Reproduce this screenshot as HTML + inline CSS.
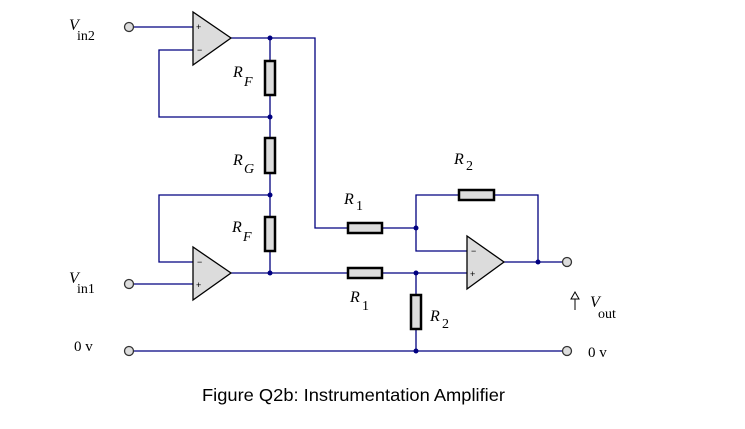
<!DOCTYPE html>
<html><head><style>html,body{margin:0;padding:0;background:#fff}svg{display:block}</style></head>
<body>
<svg width="745" height="429" viewBox="0 0 745 429" xmlns="http://www.w3.org/2000/svg">
<g fill="none" stroke="#000080" stroke-width="1.3">
<polyline points="134,27 193,27"/>
<polyline points="193,50 159,50 159,117 270,117"/>
<polyline points="231,38 315,38 315,228 348,228"/>
<polyline points="270,38 270,61"/><polyline points="270,95 270,138"/><polyline points="270,173 270,217"/><polyline points="270,251 270,273"/>
<polyline points="193,262 159,262 159,195 270,195"/>
<polyline points="134,284 193,284"/>
<polyline points="231,273 348,273"/>
<polyline points="382,273 467,273"/>
<polyline points="382,228 416,228 416,251 467,251"/>
<polyline points="416,228 416,195 459,195"/>
<polyline points="494,195 538,195 538,262"/>
<polyline points="504,262 563,262"/>
<polyline points="416,273 416,295"/><polyline points="416,329 416,351"/>
<polyline points="134,351 563,351"/>
</g>
<g fill="#dcdcdc" stroke="#000" stroke-width="1.3">
<polygon points="193,12 193,65 231,38"/>
<polygon points="193,247 193,300 231,273"/>
<polygon points="467,236 467,289 504,262"/>
</g>
<g fill="#dcdcdc" stroke="#000" stroke-width="2.5">
<rect x="265" y="61" width="10" height="34"/>
<rect x="265" y="138" width="10" height="35"/>
<rect x="265" y="217" width="10" height="34"/>
<rect x="348" y="223" width="34" height="10"/>
<rect x="348" y="268" width="34" height="10"/>
<rect x="459" y="190" width="35" height="10"/>
<rect x="411" y="295" width="10" height="34"/>
</g>
<g fill="#ddd" stroke="#333" stroke-width="1.3">
<circle cx="129" cy="27" r="4.5"/><circle cx="129" cy="284" r="4.5"/><circle cx="129" cy="351" r="4.5"/>
<circle cx="567" cy="262" r="4.5"/><circle cx="567" cy="351" r="4.5"/>
</g>
<g fill="#000080">
<circle cx="270" cy="38" r="2.5"/><circle cx="270" cy="117" r="2.5"/><circle cx="270" cy="195" r="2.5"/><circle cx="270" cy="273" r="2.5"/>
<circle cx="416" cy="228" r="2.5"/><circle cx="416" cy="273" r="2.5"/><circle cx="538" cy="262" r="2.5"/><circle cx="416" cy="351" r="2.5"/>
</g>
<g font-family="Liberation Sans, sans-serif" font-size="9" fill="#000">
<text x="196" y="30">+</text><text x="197" y="53">−</text>
<text x="197" y="265">−</text><text x="196" y="288">+</text>
<text x="471" y="254">−</text><text x="470" y="277">+</text>
</g>
<path d="M575,310 V295" stroke="#000" stroke-width="1"/>
<polygon points="571,299 575,292 579,299" fill="#fff" stroke="#000" stroke-width="1"/>
<g font-family="Liberation Serif, serif" font-size="16" fill="#000">
<text x="69" y="30" font-style="italic">V</text><text x="77" y="40" font-size="14">in2</text>
<text x="69" y="283" font-style="italic">V</text><text x="77" y="293" font-size="14">in1</text>
<text x="233" y="77" font-style="italic">R</text><text x="244" y="86" font-style="italic" font-size="14">F</text>
<text x="233" y="165" font-style="italic">R</text><text x="244" y="173" font-style="italic" font-size="14">G</text>
<text x="232" y="232" font-style="italic">R</text><text x="243" y="241" font-style="italic" font-size="14">F</text>
<text x="344" y="204" font-style="italic">R</text><text x="356" y="210" font-size="14">1</text>
<text x="350" y="302" font-style="italic">R</text><text x="362" y="310" font-size="14">1</text>
<text x="454" y="164" font-style="italic">R</text><text x="466" y="170" font-size="14">2</text>
<text x="430" y="321" font-style="italic">R</text><text x="442" y="328" font-size="14">2</text>
<text x="590" y="307" font-style="italic">V</text><text x="598" y="318" font-size="14">out</text>
<text x="74" y="351" font-size="15">0 v</text>
<text x="588" y="357" font-size="15">0 v</text>
</g>
<text x="202" y="401" font-family="Liberation Sans, sans-serif" font-size="17.5" textLength="303" lengthAdjust="spacingAndGlyphs" fill="#000">Figure Q2b: Instrumentation Amplifier</text>
</svg>
</body></html>
